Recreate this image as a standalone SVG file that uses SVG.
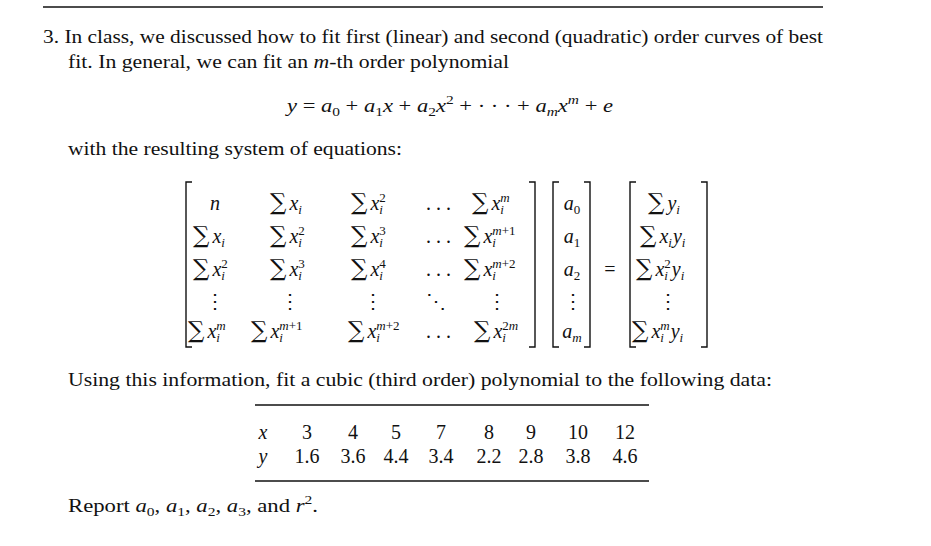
<svg xmlns="http://www.w3.org/2000/svg" width="931" height="546" viewBox="0 0 931 546">
<style>
text{font-family:"Liberation Serif","DejaVu Serif",serif;font-size:19px;fill:#111}
.i{font-style:italic}
.s{font-size:13px}
.S{font-family:"DejaVu Serif",serif;font-size:23px;font-style:normal}
.m{font-size:20px}
.b{fill:none;stroke:#111;stroke-width:1.4}
.r{stroke:#111;stroke-width:1.6}
</style>
<rect width="931" height="546" fill="#fff"/>
<line class="r" x1="43" y1="7" x2="823" y2="7"/>
<g id="text">
<text x="43" y="43" textLength="780" lengthAdjust="spacingAndGlyphs">3.  In class, we discussed how to fit first (linear) and second (quadratic) order curves of best</text>
<text x="68" y="68" textLength="441" lengthAdjust="spacingAndGlyphs">fit.  In general, we can fit an <tspan class="i">m</tspan>-th order polynomial</text>
<text x="287" y="112" textLength="326" lengthAdjust="spacingAndGlyphs"><tspan class="i">y</tspan> = <tspan class="i">a</tspan><tspan class="s" dy="4">0</tspan><tspan dy="-4"> + </tspan><tspan class="i">a</tspan><tspan class="s" dy="4">1</tspan><tspan class="i" dy="-4">x</tspan> + <tspan class="i">a</tspan><tspan class="s" dy="4">2</tspan><tspan class="i" dy="-4">x</tspan><tspan class="s" dy="-8">2</tspan><tspan dy="8"> + · · · + </tspan><tspan class="i">a</tspan><tspan class="s i" dy="4">m</tspan><tspan class="i" dy="-4">x</tspan><tspan class="s i" dy="-8">m</tspan><tspan dy="8"> + </tspan><tspan class="i">e</tspan></text>
<text x="68" y="155" textLength="334" lengthAdjust="spacingAndGlyphs">with the resulting system of equations:</text>
<text x="68" y="386" textLength="704" lengthAdjust="spacingAndGlyphs">Using this information, fit a cubic (third order) polynomial to the following data:</text>
<text x="68" y="512" textLength="250" lengthAdjust="spacingAndGlyphs">Report <tspan class="i">a</tspan><tspan class="s" dy="4">0</tspan><tspan dy="-4">, </tspan><tspan class="i">a</tspan><tspan class="s" dy="4">1</tspan><tspan dy="-4">, </tspan><tspan class="i">a</tspan><tspan class="s" dy="4">2</tspan><tspan dy="-4">, </tspan><tspan class="i">a</tspan><tspan class="s" dy="4">3</tspan><tspan dy="-4">, and </tspan><tspan class="i">r</tspan><tspan class="s" dy="-8">2</tspan><tspan dy="8">.</tspan></text>
</g>
<g id="matrix">
<path class="b" d="M192 182H186V347H192M529 182H535V347H529M559 182H553V347H559M584 182H590V347H584M636 182H630V347H636M701 182H707V347H701"/>
<text class="i m" x="215" y="210" text-anchor="middle">n</text>
<text class="m" x="270" y="210"><tspan class="S">∑</tspan><tspan class="i" dx="3">x</tspan><tspan class="s i" dy="4">i</tspan></text>
<text class="m" x="351" y="210"><tspan class="S">∑</tspan><tspan class="i" dx="3">x</tspan><tspan class="s i" dy="4">i</tspan><tspan class="s" dx="-3.6" dy="-12">2</tspan></text>
<text class="m" x="426" y="210">. . .</text>
<text class="m" x="472" y="210"><tspan class="S">∑</tspan><tspan class="i" dx="3">x</tspan><tspan class="s i" dy="4">i</tspan><tspan class="s i" dx="-3.6" dy="-12">m</tspan></text>

<text class="m" x="193" y="243"><tspan class="S">∑</tspan><tspan class="i" dx="3">x</tspan><tspan class="s i" dy="4">i</tspan></text>
<text class="m" x="270" y="243"><tspan class="S">∑</tspan><tspan class="i" dx="3">x</tspan><tspan class="s i" dy="4">i</tspan><tspan class="s" dx="-3.6" dy="-12">2</tspan></text>
<text class="m" x="351" y="243"><tspan class="S">∑</tspan><tspan class="i" dx="3">x</tspan><tspan class="s i" dy="4">i</tspan><tspan class="s" dx="-3.6" dy="-12">3</tspan></text>
<text class="m" x="426" y="243">. . .</text>
<text class="m" x="464" y="243"><tspan class="S">∑</tspan><tspan class="i" dx="3">x</tspan><tspan class="s i" dy="4">i</tspan><tspan class="s" dx="-3.6" dy="-12"><tspan class="i">m</tspan>+1</tspan></text>

<text class="m" x="193" y="276"><tspan class="S">∑</tspan><tspan class="i" dx="3">x</tspan><tspan class="s i" dy="4">i</tspan><tspan class="s" dx="-3.6" dy="-12">2</tspan></text>
<text class="m" x="270" y="276"><tspan class="S">∑</tspan><tspan class="i" dx="3">x</tspan><tspan class="s i" dy="4">i</tspan><tspan class="s" dx="-3.6" dy="-12">3</tspan></text>
<text class="m" x="351" y="276"><tspan class="S">∑</tspan><tspan class="i" dx="3">x</tspan><tspan class="s i" dy="4">i</tspan><tspan class="s" dx="-3.6" dy="-12">4</tspan></text>
<text class="m" x="426" y="276">. . .</text>
<text class="m" x="464" y="276"><tspan class="S">∑</tspan><tspan class="i" dx="3">x</tspan><tspan class="s i" dy="4">i</tspan><tspan class="s" dx="-3.6" dy="-12"><tspan class="i">m</tspan>+2</tspan></text>

<text class="m" x="215" y="308" text-anchor="middle">⋮</text>
<text class="m" x="290" y="308" text-anchor="middle">⋮</text>
<text class="m" x="373" y="308" text-anchor="middle">⋮</text>
<text class="m" x="436" y="308" text-anchor="middle">⋱</text>
<text class="m" x="497" y="308" text-anchor="middle">⋮</text>

<text class="m" x="188" y="338"><tspan class="S">∑</tspan><tspan class="i" dx="3">x</tspan><tspan class="s i" dy="4">i</tspan><tspan class="s i" dx="-3.6" dy="-12">m</tspan></text>
<text class="m" x="251" y="338"><tspan class="S">∑</tspan><tspan class="i" dx="3">x</tspan><tspan class="s i" dy="4">i</tspan><tspan class="s" dx="-3.6" dy="-12"><tspan class="i">m</tspan>+1</tspan></text>
<text class="m" x="348" y="338"><tspan class="S">∑</tspan><tspan class="i" dx="3">x</tspan><tspan class="s i" dy="4">i</tspan><tspan class="s" dx="-3.6" dy="-12"><tspan class="i">m</tspan>+2</tspan></text>
<text class="m" x="426" y="338">. . .</text>
<text class="m" x="474" y="338"><tspan class="S">∑</tspan><tspan class="i" dx="3">x</tspan><tspan class="s i" dy="4">i</tspan><tspan class="s" dx="-3.6" dy="-12">2<tspan class="i">m</tspan></tspan></text>
</g>
<g id="avector">
<text class="m" x="572" y="210" text-anchor="middle"><tspan class="i">a</tspan><tspan class="s" dy="4">0</tspan></text>
<text class="m" x="572" y="243" text-anchor="middle"><tspan class="i">a</tspan><tspan class="s" dy="4">1</tspan></text>
<text class="m" x="572" y="276" text-anchor="middle"><tspan class="i">a</tspan><tspan class="s" dy="4">2</tspan></text>
<text class="m" x="573" y="308" text-anchor="middle">⋮</text>
<text class="m" x="572" y="338" text-anchor="middle"><tspan class="i">a</tspan><tspan class="s i" dy="4">m</tspan></text>
<text class="m" x="610" y="276" text-anchor="middle">=</text>
</g>
<g id="rhs">
<text class="m" x="648" y="210"><tspan class="S">∑</tspan><tspan class="i" dx="3">y</tspan><tspan class="s i" dy="4">i</tspan></text>
<text class="m" x="640" y="243"><tspan class="S">∑</tspan><tspan class="i" dx="3">x</tspan><tspan class="s i" dy="4">i</tspan><tspan class="i" dx="1" dy="-4">y</tspan><tspan class="s i" dy="4">i</tspan></text>
<text class="m" x="636" y="276"><tspan class="S">∑</tspan><tspan class="i" dx="3">x</tspan><tspan class="s i" dy="4">i</tspan><tspan class="s" dx="-3.6" dy="-12">2</tspan><tspan class="i" dx="1" dy="8">y</tspan><tspan class="s i" dy="4">i</tspan></text>
<text class="m" x="668" y="308" text-anchor="middle">⋮</text>
<text class="m" x="632" y="338"><tspan class="S">∑</tspan><tspan class="i" dx="3">x</tspan><tspan class="s i" dy="4">i</tspan><tspan class="s i" dx="-3.6" dy="-12">m</tspan><tspan class="i" dx="1" dy="8">y</tspan><tspan class="s i" dy="4">i</tspan></text>
</g>
<g id="table" text-anchor="middle">
<line class="r" x1="255" y1="405" x2="649" y2="405"/>
<line class="r" x1="255" y1="481" x2="649" y2="481"/>
<text class="i m" x="263" y="439">x</text>
<text class="m" x="307" y="439">3</text><text class="m" x="353" y="439">4</text><text class="m" x="396" y="439">5</text><text class="m" x="441" y="439">7</text><text class="m" x="489" y="439">8</text><text class="m" x="531" y="439">9</text><text class="m" x="578" y="439">10</text><text class="m" x="625" y="439">12</text>
<text class="i m" x="263" y="463">y</text>
<text class="m" x="307" y="463">1.6</text><text class="m" x="353" y="463">3.6</text><text class="m" x="396" y="463">4.4</text><text class="m" x="441" y="463">3.4</text><text class="m" x="489" y="463">2.2</text><text class="m" x="531" y="463">2.8</text><text class="m" x="578" y="463">3.8</text><text class="m" x="625" y="463">4.6</text>
</g>
</svg>
